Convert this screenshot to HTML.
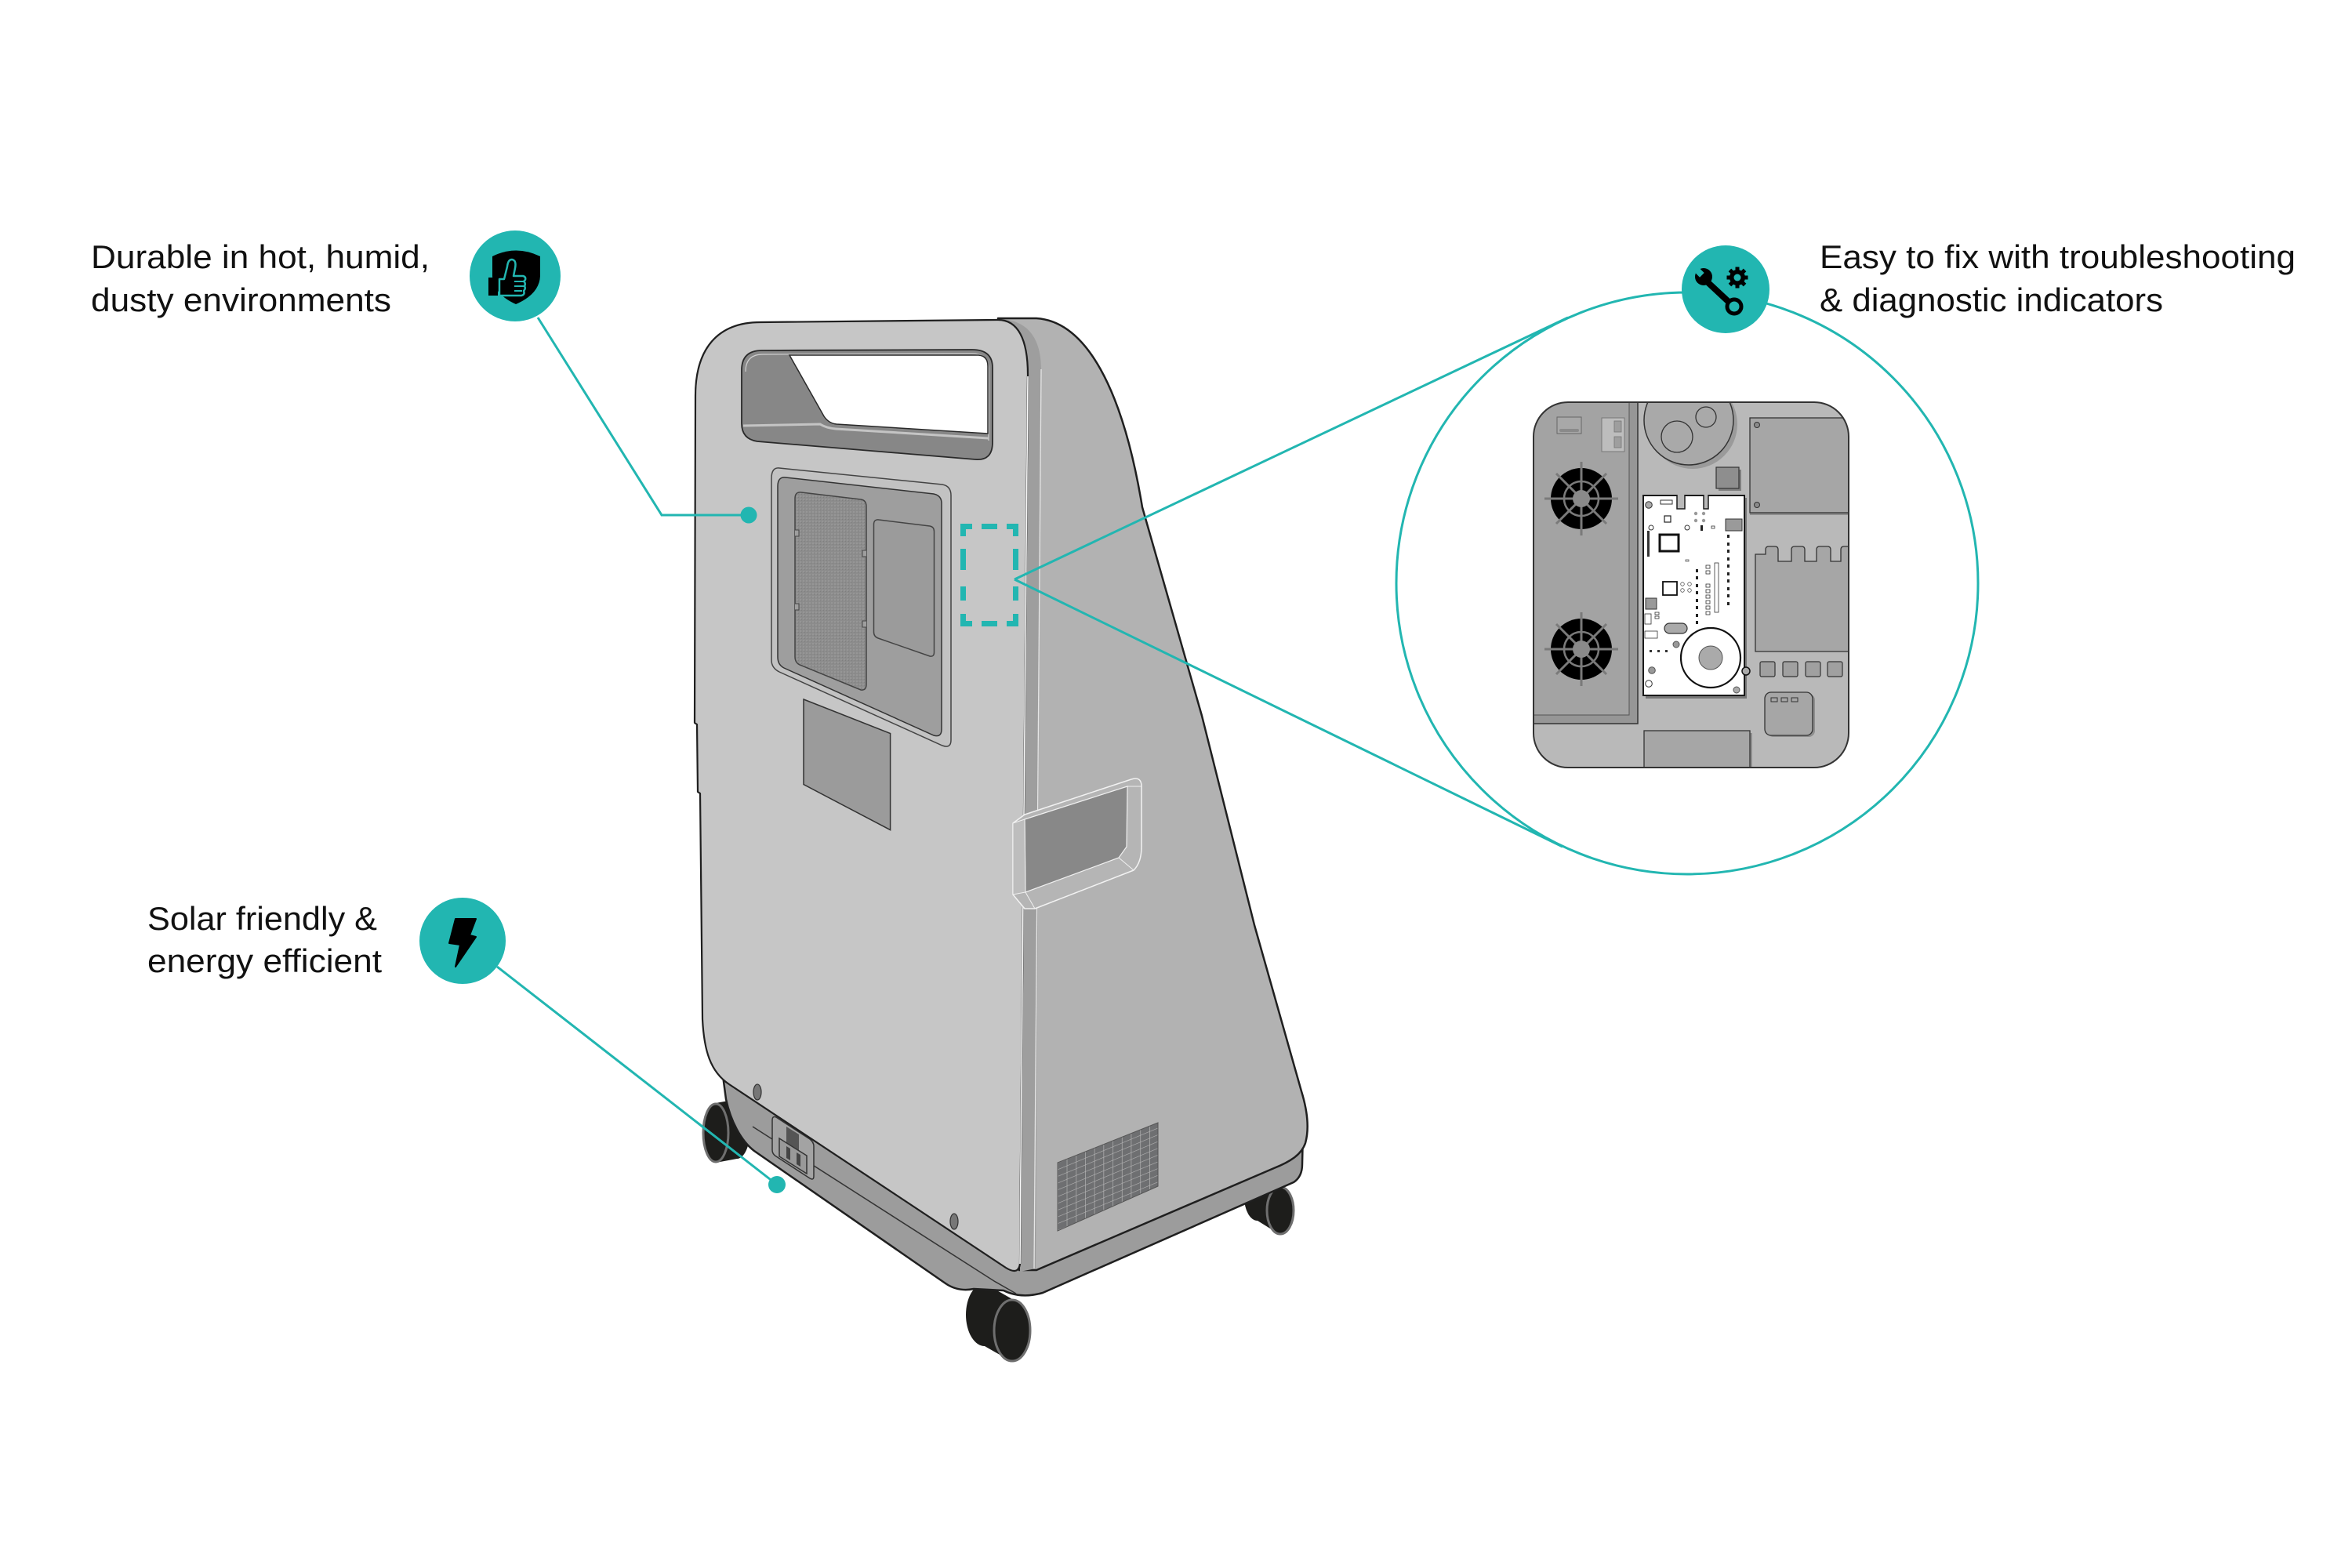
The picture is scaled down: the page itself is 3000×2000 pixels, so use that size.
<!DOCTYPE html>
<html><head><meta charset="utf-8">
<style>
html,body{margin:0;padding:0;background:#fff;}
svg{display:block;}
text{font-family:"Liberation Sans",sans-serif;font-size:42px;fill:#111;}
</style></head><body>
<svg width="3000" height="2000" viewBox="0 0 3000 2000" xmlns="http://www.w3.org/2000/svg">
<defs>
<pattern id="tex" width="4" height="4" patternUnits="userSpaceOnUse"><rect width="4" height="4" fill="#8c8c8c"/><rect width="2" height="2" fill="#969696"/><rect x="2" y="2" width="1" height="1" fill="#7f7f7f"/></pattern>
<pattern id="grid" width="11.7" height="8.6" patternUnits="userSpaceOnUse" patternTransform="translate(1349 1483) skewY(-22.5)"><rect width="11.7" height="8.6" fill="#6e6f71"/><path d="M0 0 H11.7 M0 0 V8.6" stroke="#b8b8b8" stroke-width="1.3"/></pattern>
<clipPath id="pc"><rect x="1956" y="513" width="402" height="466" rx="44"/></clipPath>
</defs>

<!-- wheels (behind) -->
<g>
<ellipse cx="940" cy="1440" rx="17" ry="38" fill="#1d1d1b"/>
<polygon points="913,1407 940,1402 940,1478 913,1483" fill="#1d1d1b"/>
<ellipse cx="913" cy="1445" rx="16" ry="37" fill="#1d1d1b" stroke="#6f6f6f" stroke-width="3"/>

<ellipse cx="1604" cy="1527" rx="17" ry="30" fill="#1d1d1b"/>
<polygon points="1604,1497 1633,1513 1633,1575 1604,1557" fill="#1d1d1b"/>
<ellipse cx="1633" cy="1544" rx="17" ry="30" fill="#1d1d1b" stroke="#6f6f6f" stroke-width="3"/>

<ellipse cx="1256" cy="1677" rx="24" ry="40" fill="#1d1d1b"/>
<polygon points="1256,1637 1291,1657 1291,1737 1256,1717" fill="#1d1d1b"/>
<ellipse cx="1291" cy="1697" rx="23" ry="39" fill="#1d1d1b" stroke="#6f6f6f" stroke-width="3"/>
</g>

<!-- base -->
<path d="M922 1372 L926 1402 C932 1430 945 1455 962 1468 L1206 1637 Q1222 1648 1242 1644 L1280 1646 Q1302 1657 1330 1649 L1650 1508 Q1661 1501 1661 1485 L1662 1440 L1320 1600 Z" fill="#9c9c9c" stroke="#1f1f1f" stroke-width="2.5" stroke-linejoin="round"/>
<path d="M960 1437 L1268 1634 L1296 1650" fill="none" stroke="#333" stroke-width="1.5"/>
<!-- power socket -->
<path d="M990 1425 L1033 1453 Q1038 1457 1038 1462 L1038 1500 Q1038 1506 1033 1503 L990 1475 Q985 1472 985 1467 L985 1429 Q985 1423 990 1425 Z" fill="#a3a3a3" stroke="#333" stroke-width="1.5"/>
<path d="M1003 1437 L1019 1447 L1019 1467 L1003 1457 Z" fill="#555"/>
<path d="M994 1452 L1029 1474 L1029 1497 L994 1475 Z" fill="#999" stroke="#333" stroke-width="1.5"/>
<path d="M1003 1462 L1008 1465 L1008 1480 L1003 1477 Z M1016 1470 L1021 1473 L1021 1488 L1016 1485 Z" fill="#444"/>

<!-- side panel -->
<path d="M1273 406 L1322 406 C1385 410 1432 495 1457 647 L1533 913 L1600 1180 L1660 1392 C1668 1418 1670 1440 1665 1458 C1660 1473 1645 1482 1625 1490 L1322 1620 L1300 1620 L1311 478 Z" fill="#b2b2b2" stroke="#1f1f1f" stroke-width="2.5" stroke-linejoin="round"/>
<!-- strip -->
<path d="M1273 407 C1305 407 1328 425 1328 471 L1321 1618 L1301 1622 L1302 1480 L1311 478 C1311 435 1296 409 1273 409 Z" fill="#9e9e9e"/>
<path d="M1328 471 L1319 1618" stroke="#e6e6e6" stroke-width="1.3" fill="none"/>

<!-- front face -->
<path d="M887 505 C887 445 915 411 970 411 L1273 408 C1298 408 1311 432 1311 478 L1302 1480 L1301 1612 Q1299 1627 1283 1617 L930 1383 C906 1367 898 1340 896 1300 L893 1012 L890 1010 L889 924 L886 922 Z" fill="#c6c6c6" stroke="#1f1f1f" stroke-width="2.2" stroke-linejoin="round"/>
<path d="M1311 480 L1302 1480 L1301 1612" stroke="#fafafa" stroke-width="1.6" fill="none"/>

<!-- screws -->
<ellipse cx="966" cy="1393" rx="5" ry="10" fill="#777" stroke="#333" stroke-width="1.2"/>
<ellipse cx="1217" cy="1558" rx="5" ry="10" fill="#777" stroke="#333" stroke-width="1.2"/>

<!-- grille -->
<polygon points="1349,1483 1477,1432 1477,1513 1349,1570" fill="url(#grid)" stroke="#555" stroke-width="1"/>

<!-- side handle -->
<path d="M1292 1050 L1307 1039 L1443 994 Q1456 990 1456 1003 L1456 1080 Q1456 1100 1446 1110 L1320 1159 L1307 1159 L1292 1141 Z" fill="#b5b5b5" stroke="#f2f2f2" stroke-width="1.5" stroke-linejoin="round"/>
<path d="M1307 1045 L1438 1003 L1437 1080 L1427 1094 L1308 1138 Z" fill="#888" stroke="#f0f0f0" stroke-width="1.2"/>
<path d="M1292 1050 L1307 1045 L1308 1138 L1292 1141 Z" fill="#bdbdbd" stroke="#f0f0f0" stroke-width="1"/>
<path d="M1308 1138 L1320 1159 M1427 1094 L1446 1110 M1438 1003 L1456 1003" stroke="#f0f0f0" stroke-width="1" fill="none"/>

<!-- top handle -->
<path d="M946 472 Q946 447 972 447 L1240 446 Q1266 446 1266 469 L1266 564 Q1266 588 1244 586 L966 563 Q946 560 946 540 Z" fill="#878787" stroke="#2a2a2a" stroke-width="1.8"/>
<path d="M951 474 Q951 452 973 452 L1239 451 Q1261 451 1261 470 L1261 562" fill="none" stroke="#d0d0d0" stroke-width="1.2"/>
<path d="M1007 453 L1248 453 Q1260 454 1260 467 L1260 553 L1067 541 Q1057 540 1051 531 Z" fill="#fff" stroke="#2a2a2a" stroke-width="1.5"/>
<path d="M948 543 L1046 541 Q1054 546 1066 547 L1261 559" fill="none" stroke="#c4c4c4" stroke-width="3"/>

<!-- filter door -->
<path d="M994 597 L1202 618 Q1213 620 1213 632 L1213 944 Q1213 955 1202 951 L994 857 Q984 852 984 842 L984 610 Q984 596 994 597 Z" fill="#c2c2c2" stroke="#444" stroke-width="1.5"/>
<path d="M1002 609 L1191 630 Q1201 632 1201 642 L1201 930 Q1201 941 1191 938 L1000 852 Q992 848 992 838 L992 620 Q992 608 1002 609 Z" fill="#9e9e9e" stroke="#333" stroke-width="1.5"/>
<path d="M1022 628 L1098 637 Q1105 638 1105 646 L1105 873 Q1105 881 1098 880 L1020 848 Q1014 845 1014 838 L1014 636 Q1014 627 1022 628 Z" fill="url(#tex)" stroke="#444" stroke-width="1.5"/>
<path d="M1014 676 h5 v8 h-5 M1014 770 h5 v8 h-5 M1105 702 h-5 v8 h5 M1105 792 h-5 v8 h5" fill="#9e9e9e" stroke="#444" stroke-width="1"/>
<path d="M1121 663 L1186 671 Q1191.5 672 1191.5 678 L1191.5 832 Q1191.5 838 1186 837 L1120 814 Q1114.5 812 1114.5 806 L1114.5 669 Q1114.5 662 1121 663 Z" fill="#9b9b9b" stroke="#444" stroke-width="1.5"/>
<polygon points="1025,892 1135.6,935.5 1135.6,1058.6 1025,1000.6" fill="#9b9b9b" stroke="#333" stroke-width="1.5"/>

<!-- teal dashed box -->
<g stroke="#22b6b1" stroke-width="7" fill="none">
<path d="M1228.5 684 V671.5 H1240 M1252 671.5 H1272 M1284 671.5 H1295.5 V684"/>
<path d="M1228.5 783 V795.5 H1240 M1252 795.5 H1272 M1284 795.5 H1295.5 V783"/>
<path d="M1228.5 700 V727 M1228.5 748 V766 M1295.5 700 V727 M1295.5 748 V766"/>
</g>

<!-- teal connectors -->
<g stroke="#22b6b1" stroke-width="3" fill="none">
<path d="M686 405 L844 657 L955 657"/>
<path d="M634 1233 L991 1511"/>
<path d="M1294 739 L2000 405"/>
<path d="M1294 739 L1993 1080"/>
<circle cx="2152" cy="744" r="371"/>
</g>
<circle cx="955" cy="657" r="10.5" fill="#22b6b1"/>
<circle cx="991" cy="1511" r="11" fill="#22b6b1"/>

<!-- detail panel -->
<rect x="1956" y="513" width="402" height="466" rx="44" fill="#b9b9b9"/>
<g clip-path="url(#pc)">
<rect x="1956" y="513" width="133" height="410" fill="#969696" stroke="#333" stroke-width="1.5"/>
<rect x="1956" y="513" width="122" height="399" fill="#a3a3a3" stroke="#555" stroke-width="1"/>
<rect x="1986" y="532" width="31" height="21" fill="#a8a8a8" stroke="#666" stroke-width="1"/>
<rect x="1989" y="547" width="25" height="4" rx="2" fill="#8a8a8a"/>
<rect x="2043" y="533" width="29" height="43" fill="#bdbdbd" stroke="#777" stroke-width="1"/>
<rect x="2059" y="537" width="9" height="14" fill="#9e9e9e" stroke="#777" stroke-width="0.8"/>
<rect x="2059" y="557" width="9" height="14" fill="#9e9e9e" stroke="#777" stroke-width="0.8"/>
<!-- fans -->
<g>
<circle cx="2017" cy="636" r="39" fill="#000"/>
<circle cx="2017" cy="636" r="22" fill="none" stroke="#7a7a7a" stroke-width="2.5"/>
<path d="M1970 636 H2064 M2017 589 V683 M1985 604 L2049 668 M2049 604 L1985 668" stroke="#7a7a7a" stroke-width="3"/>
<circle cx="2017" cy="636" r="11" fill="#8a8a8a"/>
<circle cx="2017" cy="828" r="39" fill="#000"/>
<circle cx="2017" cy="828" r="22" fill="none" stroke="#7a7a7a" stroke-width="2.5"/>
<path d="M1970 828 H2064 M2017 781 V875 M1985 796 L2049 860 M2049 796 L1985 860" stroke="#7a7a7a" stroke-width="3"/>
<circle cx="2017" cy="828" r="11" fill="#8a8a8a"/>
</g>
<!-- disk -->
<circle cx="2159" cy="541" r="57" fill="#9a9a9a"/>
<circle cx="2154" cy="536" r="57" fill="#a9a9a9" stroke="#333" stroke-width="1.5"/>
<circle cx="2139" cy="557" r="20" fill="none" stroke="#333" stroke-width="1.3"/>
<circle cx="2176" cy="532" r="13" fill="none" stroke="#333" stroke-width="1.3"/>
<rect x="2192" y="599" width="29" height="27" fill="#7e7e7e"/>
<rect x="2189" y="596" width="29" height="27" fill="#8e8e8e" stroke="#333" stroke-width="1.2"/>
<!-- top right block -->
<rect x="2232" y="536" width="140" height="121" fill="#8e8e8e"/>
<rect x="2232" y="533" width="140" height="121" fill="#a6a6a6" stroke="#333" stroke-width="1.3"/>
<circle cx="2241" cy="542" r="3.5" fill="#8a8a8a" stroke="#333" stroke-width="1"/>
<circle cx="2241" cy="644" r="3.5" fill="#8a8a8a" stroke="#333" stroke-width="1"/>
<!-- wavy block -->
<path d="M2239 707 L2252 707 L2252 701 Q2252 697 2256 697 L2264 697 Q2268 697 2268 701 L2268 716 L2285 716 L2285 701 Q2285 697 2289 697 L2298 697 Q2302 697 2302 701 L2302 716 L2317 716 L2317 701 Q2317 697 2321 697 L2331 697 Q2335 697 2335 701 L2335 716 L2348 716 L2348 701 Q2348 697 2352 697 L2370 697 L2370 831 L2239 831 Z" fill="#a6a6a6" stroke="#333" stroke-width="1.3"/>
<!-- small squares -->
<g fill="#a0a0a0" stroke="#333" stroke-width="1.2">
<rect x="2245" y="844" width="19" height="19" rx="2"/>
<rect x="2274" y="844" width="19" height="19" rx="2"/>
<rect x="2303" y="844" width="19" height="19" rx="2"/>
<rect x="2331" y="844" width="19" height="19" rx="2"/>
</g>
<rect x="2254" y="885" width="61" height="55" rx="8" fill="#8e8e8e"/>
<rect x="2251" y="883" width="61" height="55" rx="8" fill="#a6a6a6" stroke="#333" stroke-width="1.3"/>
<g fill="none" stroke="#333" stroke-width="1"><rect x="2259" y="890" width="8" height="5"/><rect x="2272" y="890" width="8" height="5"/><rect x="2285" y="890" width="8" height="5"/></g>
<rect x="2100" y="935" width="135" height="60" fill="#8e8e8e"/>
<rect x="2097" y="932" width="135" height="60" fill="#a6a6a6" stroke="#333" stroke-width="1.3"/>
<!-- PCB -->
<rect x="2099" y="635" width="129" height="256" fill="#777"/>
<rect x="2096" y="632" width="129" height="255" fill="#fff" stroke="#1a1a1a" stroke-width="2"/>
<path d="M2139 631 V649 H2149 V631 M2173 631 V649 H2179 V631" fill="#b9b9b9" stroke="#1a1a1a" stroke-width="1.5"/>
<circle cx="2103" cy="644" r="4.3" fill="#aaa" stroke="#333" stroke-width="1"/>
<rect x="2118" y="638" width="15" height="5" fill="none" stroke="#333" stroke-width="1"/>
<rect x="2123" y="658" width="8" height="8" fill="none" stroke="#222" stroke-width="1.2"/>
<g fill="#999"><circle cx="2163" cy="655" r="2.2"/><circle cx="2173" cy="655" r="2.2"/><circle cx="2163" cy="664" r="2.2"/><circle cx="2173" cy="664" r="2.2"/></g>
<circle cx="2106" cy="673" r="3" fill="none" stroke="#333" stroke-width="1"/>
<circle cx="2152" cy="673" r="3" fill="none" stroke="#333" stroke-width="1"/>
<rect x="2169" y="670" width="3" height="7" fill="#222"/>
<rect x="2183" y="671" width="4" height="3" fill="none" stroke="#333" stroke-width="0.8"/>
<rect x="2201" y="662" width="21" height="15" fill="#9a9a9a" stroke="#333" stroke-width="1"/>
<rect x="2117" y="682" width="24" height="21" fill="#fff" stroke="#111" stroke-width="3"/>
<rect x="2101" y="677" width="3" height="33" fill="#333"/>
<rect x="2121" y="742" width="18" height="17" fill="#fff" stroke="#111" stroke-width="1.8"/>
<g fill="none" stroke="#555" stroke-width="0.8"><circle cx="2146" cy="745" r="2.3"/><circle cx="2155" cy="745" r="2.3"/><circle cx="2146" cy="753" r="2.3"/><circle cx="2155" cy="753" r="2.3"/></g>
<rect x="2150" y="714" width="4" height="2" fill="none" stroke="#555" stroke-width="0.8"/>
<rect x="2099" y="763" width="14" height="14" fill="#999" stroke="#333" stroke-width="1"/>
<g fill="#222">
<rect x="2203" y="682" width="3" height="4"/><rect x="2203" y="692" width="3" height="4"/><rect x="2203" y="701" width="3" height="4"/><rect x="2203" y="711" width="3" height="4"/><rect x="2203" y="720" width="3" height="4"/><rect x="2203" y="730" width="3" height="4"/><rect x="2203" y="739" width="3" height="4"/><rect x="2203" y="749" width="3" height="4"/><rect x="2203" y="758" width="3" height="4"/><rect x="2203" y="768" width="3" height="4"/>
<rect x="2163" y="726" width="3" height="4"/><rect x="2163" y="735" width="3" height="4"/><rect x="2163" y="745" width="3" height="4"/><rect x="2163" y="754" width="3" height="4"/><rect x="2163" y="764" width="3" height="4"/><rect x="2163" y="773" width="3" height="4"/><rect x="2163" y="783" width="3" height="4"/><rect x="2163" y="792" width="3" height="4"/>
</g>
<g fill="none" stroke="#333" stroke-width="0.8">
<rect x="2176" y="721" width="5" height="4"/><rect x="2176" y="728" width="5" height="4"/><rect x="2176" y="745" width="5" height="4"/><rect x="2176" y="752" width="5" height="4"/><rect x="2176" y="759" width="5" height="4"/><rect x="2176" y="766" width="5" height="4"/><rect x="2176" y="773" width="5" height="4"/><rect x="2176" y="780" width="5" height="4"/>
<rect x="2187" y="718" width="5" height="63"/>
<rect x="2098" y="783" width="8" height="13"/>
<rect x="2098" y="805" width="16" height="9"/>
<rect x="2111" y="781" width="5" height="3"/><rect x="2111" y="786" width="5" height="3"/>
</g>
<rect x="2123" y="795" width="29" height="13" rx="6.5" fill="#aaa" stroke="#333" stroke-width="1.2"/>
<circle cx="2138" cy="822" r="4" fill="#999" stroke="#555" stroke-width="1"/>
<g fill="#333"><rect x="2104" y="829" width="3" height="3"/><rect x="2114" y="829" width="3" height="3"/><rect x="2124" y="829" width="3" height="3"/></g>
<circle cx="2107" cy="855" r="4.3" fill="#999" stroke="#555" stroke-width="1"/>
<circle cx="2103" cy="872" r="4.3" fill="#fff" stroke="#333" stroke-width="1"/>
<circle cx="2215" cy="880" r="4" fill="#aaa" stroke="#555" stroke-width="1"/>
<circle cx="2227" cy="856" r="5" fill="#aaa" stroke="#111" stroke-width="1.5"/>
<circle cx="2182" cy="839" r="38" fill="#fff" stroke="#111" stroke-width="2.2"/>
<circle cx="2182" cy="839" r="15" fill="#aaa" stroke="#555" stroke-width="1"/>
</g>
<rect x="1956" y="513" width="402" height="466" rx="44" fill="none" stroke="#333" stroke-width="2"/>

<!-- icon circles -->
<circle cx="657" cy="352" r="58" fill="#22b6b1"/>
<path d="M628 327 Q658 312 689 327 L689 352 Q688 375 658 388 Q629 375 628 352 Z" fill="#000"/>
<rect x="623" y="354" width="12" height="23" fill="#000"/>
<path d="M637 356 L643 356 L647 340 Q648 331 653 331 Q659 332 657 342 L655 352 L667 352 Q671 353 670 357 L668 359 Q671 361 669 365 Q671 368 668 371 Q670 376 665 377 L637 377 Z" fill="#000" stroke="#22b6b1" stroke-width="2.5" stroke-linejoin="round"/>
<path d="M656 359 H668 M656 365 H668 M656 371 H666" stroke="#22b6b1" stroke-width="2" fill="none"/>

<circle cx="2201" cy="369" r="56" fill="#22b6b1"/>
<path d="M2176 358 L2206 386" stroke="#000" stroke-width="8" stroke-linecap="round"/>
<circle cx="2173" cy="353" r="11" fill="#000"/>
<rect x="-4" y="-16" width="8" height="13" fill="#22b6b1" transform="translate(2173 353) rotate(-45)"/>
<circle cx="2212" cy="391" r="9" fill="#22b6b1" stroke="#000" stroke-width="5"/>
<g transform="translate(2216 354)">
<circle r="10" fill="#000"/>
<g fill="#000"><rect x="-2.5" y="-13.5" width="5" height="27"/><rect x="-2.5" y="-13.5" width="5" height="27" transform="rotate(45)"/><rect x="-2.5" y="-13.5" width="5" height="27" transform="rotate(90)"/><rect x="-2.5" y="-13.5" width="5" height="27" transform="rotate(135)"/></g>
<circle r="4.5" fill="#22b6b1"/>
</g>

<circle cx="590" cy="1200" r="55" fill="#22b6b1"/>
<polygon points="581,1172 607,1172 599,1193 607,1195 581,1233 587,1205 573,1203" fill="#000" stroke="#000" stroke-width="2" stroke-linejoin="round"/>

<!-- labels -->
<text x="116" y="342" textLength="432" lengthAdjust="spacingAndGlyphs">Durable in hot, humid,</text>
<text x="116" y="397" textLength="383" lengthAdjust="spacingAndGlyphs">dusty environments</text>
<text x="2321" y="342" textLength="607" lengthAdjust="spacingAndGlyphs">Easy to fix with troubleshooting</text>
<text x="2321" y="397" textLength="438" lengthAdjust="spacingAndGlyphs">&amp; diagnostic indicators</text>
<text x="188" y="1186" textLength="293" lengthAdjust="spacingAndGlyphs">Solar friendly &amp;</text>
<text x="188" y="1240" textLength="299" lengthAdjust="spacingAndGlyphs">energy efficient</text>
</svg>
</body></html>
